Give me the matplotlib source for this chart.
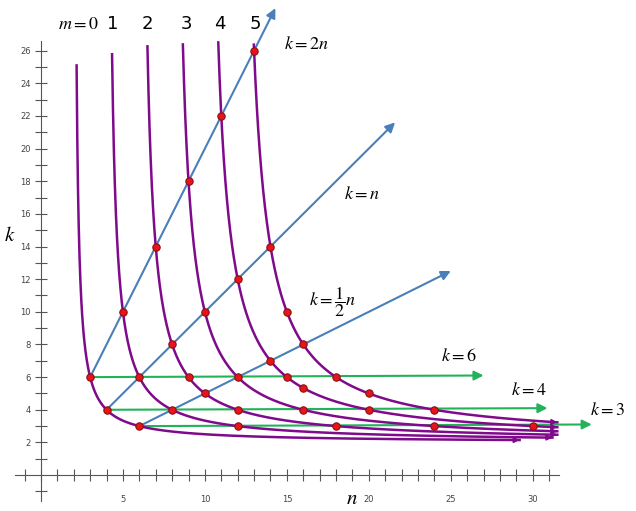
import numpy as np
import matplotlib
matplotlib.use("Agg")
import matplotlib.pyplot as plt

plt.rcParams['mathtext.fontset'] = 'stix'

m_values = [0, 1, 2, 3, 4, 5]
curve_end_n = [29.2, 31.2, 31.5, 31.5, 31.5, 31.5]
# integer-ish points (n, k) marked in red
points_n = [3, 4, 6, 5, 6, 8, 12, 7, 8, 9, 10, 12, 18, 9, 10, 12, 16, 24,
            11, 12, 14, 15, 16, 20, 30, 13, 14, 15, 16, 18, 20, 24]
points_k = [6, 4, 3, 10, 6, 4, 3, 14, 8, 6, 5, 4, 3, 18, 10, 6, 4, 3,
            22, 12, 7, 6, 5.33, 4, 3, 26, 14, 10, 8, 6, 5, 4]
# rays k = slope*n : start, end
ray_slopes = [2, 1, 0.5]
ray_start = [3, 4, 6]
ray_end = [14.3, 21.6, 25.0]
ray_labels = [r'$k = 2n$', r'$k = n$', r'$k = \dfrac{1}{2}n$']
# horizontal lines k = const
h_k = [6, 4, 3]
h_start = [3, 4, 6]
h_end = [27, 30.9, 33.6]
h_labels = [r'$k = 6$', r'$k = 4$', r'$k = 3$']

fig = plt.figure(figsize=(6.36, 5.11), dpi=100)
ax = fig.add_axes([0, 0, 1, 1])
ax.set_xlim(-2.5, 36.3)
ax.set_ylim(-2.2, 29.1)

purple = '#800a8c'
blue = '#4a7fb8'
green = '#22b35a'

for m, ne in zip(m_values, curve_end_n):
    a = 2 * (m + 1)
    n = np.linspace(a + 0.01, ne, 2000)
    k = 2 * n / (n - a)
    sel = k <= 26.6
    n, k = n[sel], k[sel]
    ax.plot(n, k, color=purple, lw=1.8, zorder=3)
    ax.annotate('', xy=(n[-1], k[-1]), xytext=(n[-5], k[-5]),
                arrowprops=dict(arrowstyle='-|>', color=purple, lw=1.2,
                                mutation_scale=8), zorder=3)

for s, a, b in zip(ray_slopes, ray_start, ray_end):
    ax.annotate('', xy=(b, s * b), xytext=(a, s * a),
                arrowprops=dict(arrowstyle='-|>', color=blue, lw=1.5,
                                mutation_scale=14, shrinkA=0, shrinkB=0), zorder=2)
for kk, a, b in zip(h_k, h_start, h_end):
    ax.annotate('', xy=(b, kk + 0.1), xytext=(a, kk),
                arrowprops=dict(arrowstyle='-|>', color=green, lw=1.5,
                                mutation_scale=14, shrinkA=0, shrinkB=0), zorder=2)

ax.scatter(points_n, points_k, s=28, color='#e8141c', edgecolor='#8a1010',
           linewidths=0.8, zorder=5)

for sp in ['top', 'right']:
    ax.spines[sp].set_visible(False)
ax.spines['left'].set_position(('data', 0))
ax.spines['bottom'].set_position(('data', 0))
ax.spines['left'].set_bounds(-1.6, 26.6)
ax.spines['bottom'].set_bounds(-1.6, 31.6)
for sp in ['left', 'bottom']:
    ax.spines[sp].set_color('#555555')
ax.set_xticks([5, 10, 15, 20, 25, 30])
ax.set_xticks([i for i in range(-1, 32) if i % 5 != 0 or i == 0], minor=True)
ax.set_yticks(list(range(2, 27, 2)))
ax.set_yticks([i for i in range(-1, 27) if i % 2 == 1], minor=True)
ax.tick_params(which='both', direction='inout', length=8, width=0.8,
               color='#555555', labelsize=6, labelcolor='#444444')
ax.tick_params(axis='x', which='major', pad=10)

ax.text(-1.9, 14.7, r'$k$', fontsize=15, ha='center', va='center')
ax.text(19.0, -1.4, r'$n$', fontsize=15, ha='center', va='center')

mlabels = [r'$m = 0$', '1', '2', '3', '4', '5']
mpos = [2.3, 4.4, 6.5, 8.9, 10.9, 13.1]
for lab, x in zip(mlabels, mpos):
    ax.text(x, 27.6, lab, fontsize=13, ha='center', va='center',
            family='DejaVu Sans' if lab != mlabels[0] else None)

lab_pos = [(16.2, 26.4), (19.6, 17.2), (17.8, 10.6)]
for t, (x, y) in zip(ray_labels, lab_pos):
    ax.text(x, y, t, fontsize=13, ha='center', va='center')
hlab_pos = [(25.5, 7.3), (29.8, 5.2), (34.6, 4.0)]
for t, (x, y) in zip(h_labels, hlab_pos):
    ax.text(x, y, t, fontsize=13, ha='center', va='center')

fig.savefig('out.png', dpi=100)
